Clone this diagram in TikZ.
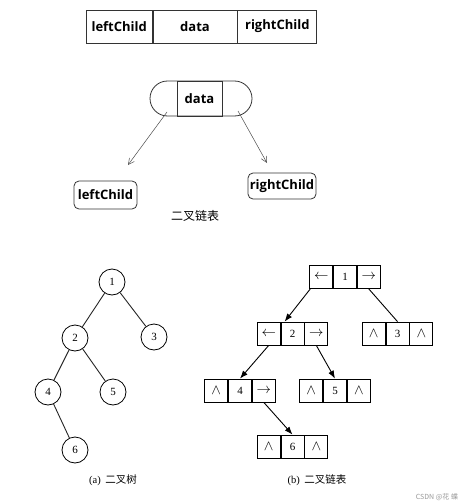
\documentclass[tikz,border=0pt]{standalone}
\usepackage{fontspec}
\setmainfont{Liberation Serif}
\newfontfamily\cjk{Noto Sans CJK SC}
\newfontfamily\bsans{Open Sans}
\usetikzlibrary{arrows.meta,calc}
\tikzset{
  topcell/.style={draw=black!80, line width=0.8pt, minimum height=33pt, inner sep=0pt, font=\bsans\bfseries\fontsize{13}{15}\selectfont},
  childbox/.style={draw=black!80, line width=0.8pt, rounded corners=5pt, inner sep=0pt, font=\bsans\bfseries\fontsize{13}{15}\selectfont},
  thinarrow/.style={draw=black!70, line width=0.5pt, -{Straight Barb[length=6pt,width=6pt]}},
  circ/.style={draw, circle, line width=0.8pt, minimum size=26pt, inner sep=0pt, font=\fontsize{11}{13}\selectfont},
  tedge/.style={line width=0.9pt, draw=black!85},
  cell/.style={draw, line width=0.8pt, minimum width=23pt, minimum height=23pt, inner sep=0pt, font=\fontsize{11}{13}\selectfont},
  parr/.style={line width=0.9pt, -{Latex[length=8pt,width=6pt]}},
  pline/.style={line width=0.9pt},
  caption/.style={font=\fontsize{10.5}{12}\selectfont}
}
\newcommand{\la}{{\fontsize{14}{14}\selectfont$\leftarrow$}}
\newcommand{\ra}{{\fontsize{14}{14}\selectfont$\rightarrow$}}
\newcommand{\nl}{{\fontsize{14}{14}\selectfont$\wedge$}}
\newcommand{\rec}[6]{%
  \node[cell] (#1) at (#2,#3) {#5};
  \node[cell, anchor=east] (#1-l) at (#1.west) {#4};
  \node[cell, anchor=west] (#1-r) at (#1.east) {#6};
}
\begin{document}
\begin{tikzpicture}[x=1pt,y=-1pt]
\useasboundingbox[fill=white] (0,0) rectangle (474,503);

% top record
\node[topcell, minimum width=84pt] (tdata) at (195,26.5) {data};
\node[topcell, minimum width=66pt, anchor=east] (tleft) at (tdata.west) {leftChild};
\node[topcell, minimum width=79pt, anchor=west] (tright) at (tdata.east) {rightChild};

% middle rounded record
\node[draw=black!80, line width=0.8pt, rounded corners=17.5pt, minimum width=102pt, minimum height=35pt] (mid) at (201,98.5) {};
\node[draw=black!80, line width=0.8pt, minimum width=45pt, minimum height=35pt, inner sep=0pt, font=\bsans\bfseries\fontsize{13}{15}\selectfont] (mdata) at (199.5,98.5) {data};

\node[childbox, minimum width=63pt, minimum height=28pt] (lc) at (105.5,195) {leftChild};
\node[childbox, minimum width=68pt, minimum height=26pt] (rc) at (282,186) {rightChild};

\coordinate (ls) at (167,112);
\coordinate (le) at (128,165);
\coordinate (rs) at (238,111);
\coordinate (re) at (267,163);
\draw[thinarrow] (ls) -- (le);
\draw[thinarrow] (rs) -- (re);

\node[font=\cjk\fontsize{12}{14}\selectfont] (cap0) at (195,216) {二叉链表};

% tree (a)
\node[circ] (a1) at (112,282) {1};
\node[circ] (a2) at (75,338) {2};
\node[circ] (a3) at (154,337) {3};
\node[circ] (a4) at (48,392) {4};
\node[circ] (a5) at (113,392) {5};
\node[circ] (a6) at (75,450) {6};
\draw[tedge] (a1) -- (a2);
\draw[tedge] (a1) -- (a3);
\draw[tedge] (a2) -- (a4);
\draw[tedge] (a2) -- (a5);
\draw[tedge] (a4) -- (a6);
\node[caption] (capa) at (113,480) {(a)\, {\cjk 二叉树}};

% tree (b)
\rec{b1}{345}{277}{\la}{1}{\ra}
\rec{b2}{292.5}{333.5}{\la}{2}{\ra}
\rec{b3}{397.5}{333.5}{\nl}{3}{\nl}
\rec{b4}{240}{390.5}{\nl}{4}{\ra}
\rec{b5}{335}{390.5}{\nl}{5}{\nl}
\rec{b6}{292.5}{446.5}{\nl}{6}{\nl}
\draw[parr] ([xshift=1pt]b1-l.south west) -- ([xshift=4pt]b2.north west);
\draw[pline] (b1-r.south) -- (b3.north);
\draw[parr] (b2-l.south) -- (b4.north);
\draw[parr] (b2-r.south) -- (b5.north);
\draw[parr] (b4-r.south) -- (b6.north);
\node[caption] (capb) at (317,480) {(b)\, {\cjk 二叉链表}};

\node[font=\cjk\fontsize{7}{8}\selectfont, text=black!40] (wm) at (437,497) {CSDN @花 蝶};
\end{tikzpicture}
\end{document}
